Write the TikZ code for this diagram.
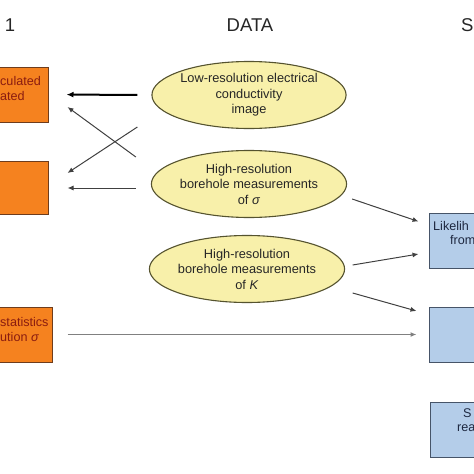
\documentclass[tikz,border=0pt]{standalone}
\usepackage{fontspec}
\setmainfont{Liberation Sans}
\usetikzlibrary{arrows.meta}
\usetikzlibrary{shapes}
\definecolor{stepfill}{HTML}{F5821F}
\definecolor{stepline}{HTML}{6E3C1C}
\definecolor{steptext}{HTML}{8A1C10}
\definecolor{datafill}{HTML}{F8F0AA}
\definecolor{dataline}{HTML}{55532F}
\definecolor{simfill}{HTML}{B4CDE9}
\definecolor{simline}{HTML}{465468}
\definecolor{simtext}{HTML}{1E2840}

\begin{document}
\begin{tikzpicture}[x=1pt,y=-1pt,
  head/.style={inner sep=0pt, text=black!85, font=\fontsize{18.5}{20}\selectfont},
  obox/.style={draw=stepline, fill=stepfill, line width=1pt, inner sep=0pt, minimum width=58pt, minimum height=55pt},
  otxt/.style={anchor=north west, inner sep=0pt, align=left, text=steptext, font=\fontsize{12.6}{15.5}\selectfont},
  dell/.style={ellipse, draw=dataline, fill=datafill, line width=1.1pt, inner sep=0pt, minimum width=183pt, minimum height=67pt, align=center, text=black!85, font=\fontsize{12.8}{15.5}\selectfont},
  sbox/.style={draw=simline, fill=simfill, line width=1pt, inner sep=0pt, minimum width=62pt, minimum height=55pt},
  stxt/.style={anchor=north west, inner sep=0pt, align=left, text=simtext, font=\fontsize{12.6}{14.5}\selectfont},
  arr/.style={-{Latex[length=6pt,width=5pt]}, line width=1pt, draw=black!75}]
\useasboundingbox (0,0) rectangle (474,474);
\clip (0,0) rectangle (474,474);

% column heads
\node[head] (h1) at (10,25) {1};
\node[head] (hdata) at (250,25) {DATA};
\node[head, anchor=west] (hsim) at (461,25) {S};

% step 1 boxes
\node[obox] (b1) at (19,94.5) {};
\node[otxt] (b1t) at (0,76) {culated\\ated};
\node[obox, minimum height=53pt] (b2) at (19,187.5) {};
\node[obox, minimum width=62pt] (b3) at (21,334.5) {};
\node[otxt] (b3t) at (0,317) {statistics\\ution \textit{σ}};

% data
\node[dell] (e1) at (249,95) {Low-resolution electrical\\conductivity\\image};
\node[dell] (e2) at (249,184) {High-resolution\\borehole measurements\\of \textit{σ}};
\node[dell, minimum width=181pt] (e3) at (247,269) {High-resolution\\borehole measurements\\of \textit{K}};

% simulation boxes
\node[sbox] (r1) at (460,240.5) {};
\node[stxt] (r1t) at (433,221) {Likelih\\\hspace*{17pt}from};
\node[sbox] (r2) at (460,334.5) {};
\node[sbox] (r3) at (461,429.5) {};
\node[stxt] (r3t) at (457,408) {\hspace*{6pt}S\\rea};

% data to step 1
\draw[arr, line width=2pt, draw=black, -{Latex[length=7pt,width=6pt]}, shorten <=14pt, shorten >=18pt] (e1.west) -- (b1.east);
\draw[arr] ([shift={(-14,32)}]e1.west) -- ([shift={(19,-14.5)}]b2.east);
\draw[arr] ([shift={(-15,-27)}]e2.west) -- ([shift={(19,12.5)}]b1.east);
\draw[arr] ([shift={(-15,4)}]e2.west) -- ([shift={(19,0.5)}]b2.east);

% data to simulation
\draw[arr] ([shift={(5,15)}]e2.east) -- ([shift={(-10,-19)}]r1.west);
\draw[arr] ([shift={(7.5,-4)}]e3.east) -- ([shift={(-10,13.5)}]r1.west);
\draw[arr] ([shift={(7.5,24)}]e3.east) -- ([shift={(-12,-23.5)}]r2.west);
\draw[arr, draw=black!50, line width=1.5pt, shorten <=15pt, shorten >=12pt] (b3.east) -- (r2.west);
\end{tikzpicture}
\end{document}
